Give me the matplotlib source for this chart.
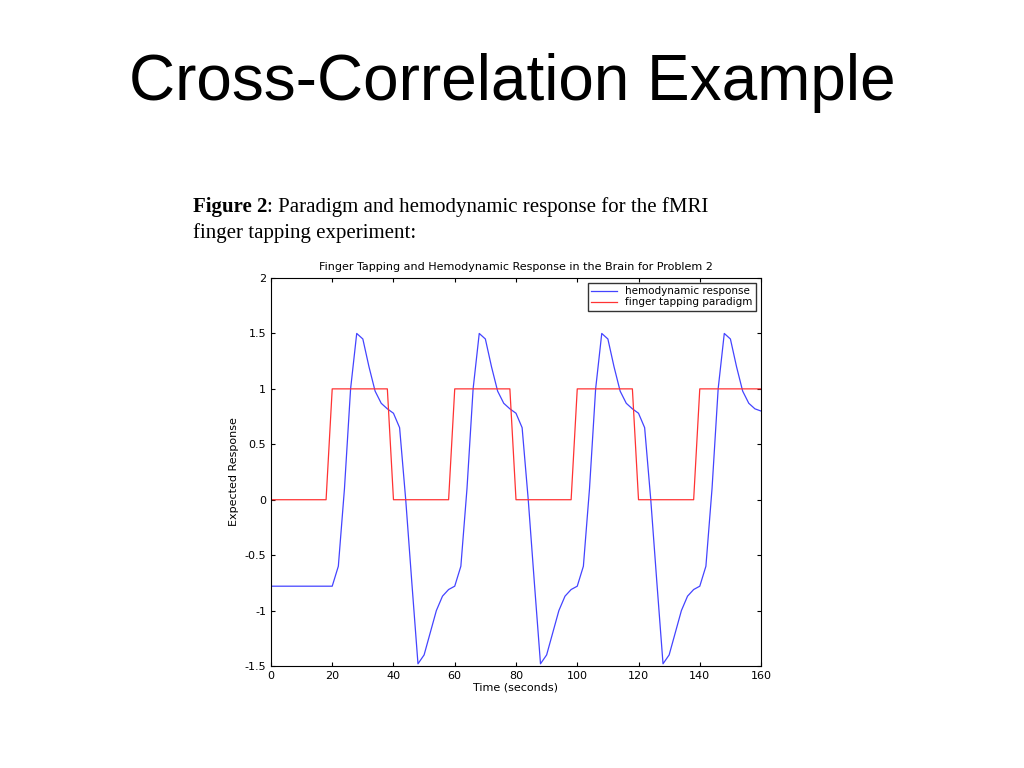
import numpy as np
import matplotlib.pyplot as plt

# time samples every 2 s
time = np.arange(0, 162, 2)

# one 40 s cycle of the hemodynamic response, starting at t=40
cycle = [0.78, 0.65, 0.0, -0.75, -1.48, -1.4, -1.2, -1.0, -0.87, -0.81,
         -0.78, -0.6, 0.1, 1.0, 1.5, 1.45, 1.2, 0.98, 0.87, 0.82]
start = [-0.78] * 11 + [-0.6, 0.1, 1.0, 1.5, 1.45, 1.2, 0.98, 0.87, 0.82]
hemodynamic = start + cycle * 3 + [0.8]

# finger tapping on/off, 20 s blocks
paradigm = ([0] * 10 + [1] * 10) * 4 + [1]

fig = plt.figure(figsize=(10.24, 7.68), dpi=100)
fig.text(0.5, 0.87, "Cross-Correlation Example", ha='center', fontsize=46,
         family='Liberation Sans')
t = fig.text(0.188, 0.724, "Figure 2", fontsize=15, family='Liberation Serif', weight='bold')
fig.canvas.draw()
bb = t.get_window_extent().transformed(fig.transFigure.inverted())
fig.text(bb.x1, 0.724, ": Paradigm and hemodynamic response for the fMRI",
         fontsize=15, family='Liberation Serif')
fig.text(0.188, 0.690, "finger tapping experiment:", fontsize=15, family='Liberation Serif')

ax = fig.add_axes([0.2646, 0.1328, 0.4786, 0.5052])
ax.plot(time, hemodynamic, color='#4444ff', lw=0.9, label='hemodynamic response')
ax.plot(time, paradigm, color='#ff3333', lw=0.9, label='finger tapping paradigm')
ax.set_xlim(0, 160)
ax.set_ylim(-1.5, 2)
ax.set_xticks(np.arange(0, 161, 20))
ax.set_yticks([-1.5, -1, -0.5, 0, 0.5, 1, 1.5, 2])
ax.set_yticklabels(['-1.5', '-1', '-0.5', '0', '0.5', '1', '1.5', '2'])
ax.tick_params(direction='in', labelsize=8, top=True, right=True, length=3)
ax.set_title("Finger Tapping and Hemodynamic Response in the Brain for Problem 2", fontsize=8)
ax.set_xlabel("Time (seconds)", fontsize=8, labelpad=1)
ax.set_ylabel("Expected Response", fontsize=8)
ax.legend(loc='upper right', fontsize=7.5, fancybox=False, edgecolor='black',
          handlelength=2.5, borderpad=0.3, labelspacing=0.1)

fig.savefig("out.png")
